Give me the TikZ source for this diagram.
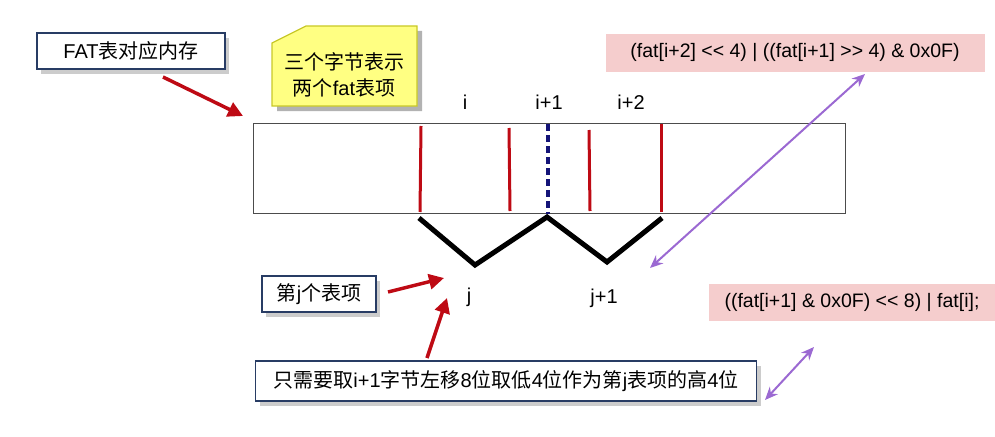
\documentclass[tikz,border=0pt]{standalone}
\usepackage{fontspec}
\setmainfont{Liberation Sans}
\newfontfamily\cjk{Noto Sans CJK SC}
\usetikzlibrary{shadows,arrows.meta}
\definecolor{bxblue}{RGB}{40,60,100}
\definecolor{arrred}{RGB}{190,10,20}
\definecolor{pinkbg}{RGB}{245,205,205}
\definecolor{purp}{RGB}{155,105,210}
\definecolor{notey}{RGB}{255,255,130}
\definecolor{notee}{RGB}{200,200,40}
\begin{document}
\begin{tikzpicture}[x=1pt,y=-1pt,
  lbl/.style={font=\fontsize{20}{24}\selectfont},
  sbox/.style={draw=bxblue,fill=white,line width=1.2pt,drop shadow={shadow xshift=4pt,shadow yshift=-5pt,opacity=0.4},font=\fontsize{20}{24}\selectfont},
  rarr/.style={draw=arrred,line width=3.5pt,-{Triangle[length=15pt,width=15pt]}},
  parr/.style={draw=purp,line width=2pt,{Stealth[length=13pt,width=11pt]}-{Stealth[length=13pt,width=11pt]}},
  pbox/.style={fill=pinkbg,font=\fontsize{19.5}{23}\selectfont,inner sep=0pt},
  rbar/.style={draw=arrred,line width=3pt},
  jline/.style={draw=black,line width=5pt,line join=miter}]
\useasboundingbox (0,0) rectangle (995,436);
% top-left box
\node[sbox,minimum width=188pt,minimum height=36pt] (fat) at (131,51) {FAT{\cjk 表对应内存}};
% note
\fill[black,opacity=0.3] (277,48) -- (311,31) -- (422,31) -- (422,111) -- (277,111) -- cycle;
\draw[notee,fill=notey,line width=1.2pt] (272,43) -- (306,26) -- (417,26) -- (417,106) -- (272,106) -- cycle;
\node[font=\fontsize{20}{26}\selectfont,align=center] (note) at (344,75) {{\cjk 三个字节表示}\\{\cjk 两个}fat{\cjk 表项}};
% memory rectangle
\node[draw=black!70,line width=0.9pt,minimum width=592pt,minimum height=90pt,inner sep=0pt] (mem) at (549,168) {};
\coordinate (memw) at (243,116);
\draw[rarr] (163,77) -- (memw);
% index labels
\node[lbl] (li) at (465,102) {i};
\node[lbl] (li1) at (549,102) {i+1};
\node[lbl] (li2) at (631,102) {i+2};
% bars
\draw[rbar] (421,126) -- (420,212);
\draw[rbar] (509,128) -- (510,211);
\draw[rbar] (589,130) -- (590,211);
\draw[rbar] (661,124) -- (661,212);
\draw[draw={rgb,255:red,20;green,20;blue,120},line width=4pt,dash pattern=on 7pt off 4pt] (548,124) -- (548,214);
% brackets
\coordinate (b1) at (419,218); \coordinate (b2) at (475,265); \coordinate (b3) at (547,217);
\coordinate (b4) at (607,262); \coordinate (b5) at (662,218);
\draw[jline] (b1) -- (b2) -- (b3) -- (b4) -- (b5);
\node[lbl] (lj) at (469,297) {j};
\node[lbl] (lj1) at (604,298) {j+1};
% jth box
\node[sbox,minimum width=114pt,minimum height=36pt] (jbox) at (319,294) {{\cjk 第}j{\cjk 个表项}};
\coordinate (ja) at (444,278);
\draw[rarr] (388,292) -- (ja);
% bottom box
\node[sbox,minimum width=501pt,minimum height=40pt] (bbox) at (506,381) {{\cjk 只需要取}i+1{\cjk 字节左移}8{\cjk 位取低}4{\cjk 位作为第}j{\cjk 表项的高}4{\cjk 位}};
\coordinate (jb) at (447,298);
\draw[rarr] (427,358) -- (jb);
% pink boxes
\node[pbox,minimum width=379pt,minimum height=38pt] (p1) at (795,53) {(fat[i+2] {<}{<} 4) | ((fat[i+1] {>}{>} 4) \& 0x0F)};
\node[pbox,minimum width=287pt,minimum height=37pt] (p2) at (852,302) {((fat[i+1] \& 0x0F) {<}{<} 8) | fat[i];};
\coordinate (pa1) at (865,74); \coordinate (pa2) at (650,268);
\draw[parr] (pa1) -- (pa2);
\coordinate (pb1) at (765,400); \coordinate (pb2) at (814,347);
\draw[parr] (pb1) -- (pb2);
\end{tikzpicture}
\end{document}
